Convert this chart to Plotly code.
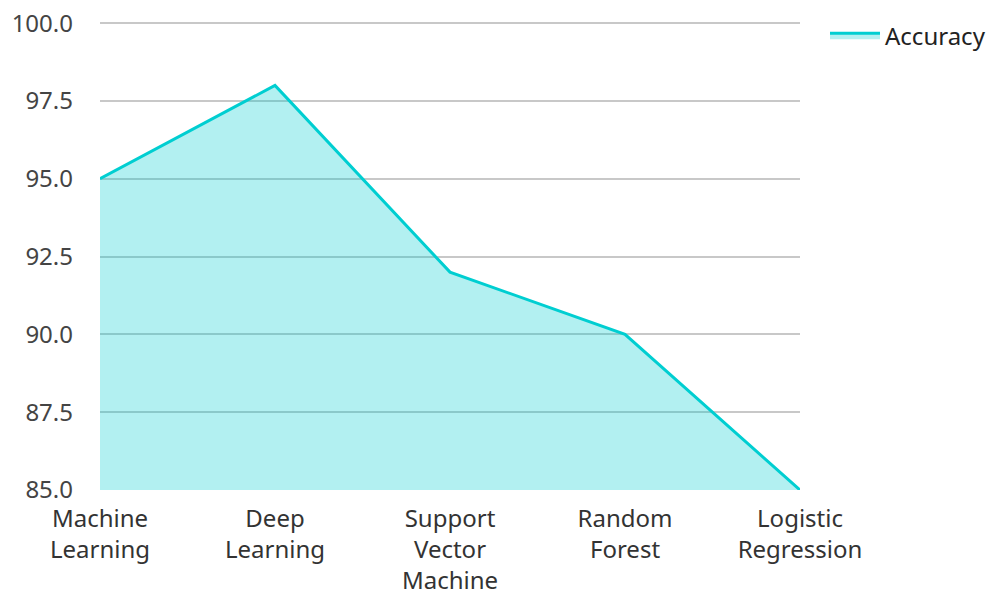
import plotly.graph_objects as go

categories = ["Machine<br>Learning", "Deep<br>Learning", "Support<br>Vector<br>Machine", "Random<br>Forest", "Logistic<br>Regression"]
accuracy = [95, 98, 92, 90, 85]
y_ticks = [85, 87.5, 90, 92.5, 95, 97.5, 100]

fig = go.Figure()
fig.add_trace(go.Scatter(
    x=list(range(len(categories))), y=accuracy, name="Accuracy",
    mode="lines", fill="tozeroy",
    line=dict(color="#00CED1", width=3),
    fillcolor="rgba(0,206,209,0.3)",
))

fig.update_layout(
    width=991, height=594,
    margin=dict(l=100, r=191, t=21, b=104, autoexpand=False),
    paper_bgcolor="white", plot_bgcolor="white",
    font=dict(family="Noto Sans", size=24, color="#444"),
    showlegend=True,
    legend=dict(xref="container", yref="container", x=0.8325, y=0.978,
                xanchor="left", yanchor="top", itemwidth=50,
                font=dict(size=24, color="#222"), bgcolor="rgba(0,0,0,0)"),
    xaxis=dict(range=[0, 4], tickmode="array", tickvals=list(range(len(categories))),
               ticktext=categories, showgrid=False, zeroline=False, showline=False,
               ticks="", ticklabelstandoff=12, tickfont=dict(color="#333"),
               automargin=False),
    yaxis=dict(range=[85, 100.07], tickmode="array", tickvals=y_ticks,
               ticktext=[f"{v:.1f}" for v in y_ticks],
               showgrid=True, gridcolor="#c8c8c8", gridwidth=1.5, zeroline=False,
               showline=False, ticks="", ticklabelstandoff=26, automargin=False),
)

fig.write_html("out.html")
